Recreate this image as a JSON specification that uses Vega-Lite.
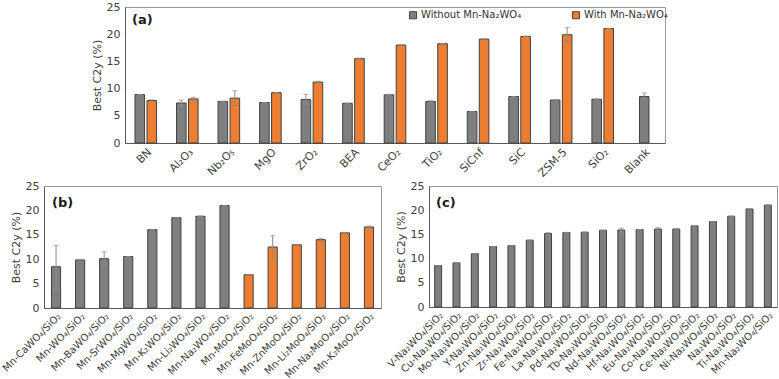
{
  "$schema": "https://vega.github.io/schema/vega-lite/v6.json",
  "padding": {"left": 0, "top": 0, "right": 0, "bottom": 0},
  "background": "white",
  "config": {
    "font": "DejaVu Sans",
    "view": {"stroke": "#9a9a9a", "strokeWidth": 1},
    "axis": {"labelFont": "DejaVu Sans", "titleFont": "DejaVu Sans", "labelColor": "#404040", "titleColor": "#404040", "domainColor": "#595959", "ticks": false, "grid": false, "labelFontSize": 11, "titleFontSize": 11, "titleFontWeight": "normal", "labelPadding": 5, "titlePadding": 4},
    "axisX": {"labelAngle": -45, "title": null, "labelFontSize": 10, "labelPadding": 3},
    "title": {"font": "DejaVu Sans", "fontSize": 13, "fontWeight": "bold", "color": "#1a1a1a", "anchor": "start", "frame": "group"}
  },
  "spacing": -1,
  "vconcat": [
    {
      "spacing": 0,
      "hconcat": [
        {
          "width": 46,
          "height": 136,
          "view": {"stroke": null},
          "data": {"values": []},
          "mark": "point"
        },
        {
          "width": 540,
          "height": 136,
          "title": {"text": "(a)", "offset": -26, "dx": 7},
          "data": {"values": [
            {"cat": "BN", "series": "Without Mn-Na₂WO₄", "value": 8.9, "err": 0},
            {"cat": "BN", "series": "With Mn-Na₂WO₄", "value": 7.8, "err": 0.15},
            {"cat": "Al₂O₃", "series": "Without Mn-Na₂WO₄", "value": 7.35, "err": 0.55},
            {"cat": "Al₂O₃", "series": "With Mn-Na₂WO₄", "value": 8.1, "err": 0.3},
            {"cat": "Nb₂O₅", "series": "Without Mn-Na₂WO₄", "value": 7.65, "err": 0},
            {"cat": "Nb₂O₅", "series": "With Mn-Na₂WO₄", "value": 8.25, "err": 1.35},
            {"cat": "MgO", "series": "Without Mn-Na₂WO₄", "value": 7.45, "err": 0},
            {"cat": "MgO", "series": "With Mn-Na₂WO₄", "value": 9.25, "err": 0},
            {"cat": "ZrO₂", "series": "Without Mn-Na₂WO₄", "value": 8.0, "err": 0.95},
            {"cat": "ZrO₂", "series": "With Mn-Na₂WO₄", "value": 11.2, "err": 0.15},
            {"cat": "BEA", "series": "Without Mn-Na₂WO₄", "value": 7.3, "err": 0},
            {"cat": "BEA", "series": "With Mn-Na₂WO₄", "value": 15.5, "err": 0.1},
            {"cat": "CeO₂", "series": "Without Mn-Na₂WO₄", "value": 8.85, "err": 0.1},
            {"cat": "CeO₂", "series": "With Mn-Na₂WO₄", "value": 18.0, "err": 0},
            {"cat": "TiO₂", "series": "Without Mn-Na₂WO₄", "value": 7.65, "err": 0.1},
            {"cat": "TiO₂", "series": "With Mn-Na₂WO₄", "value": 18.25, "err": 0},
            {"cat": "SiCnf", "series": "Without Mn-Na₂WO₄", "value": 5.8, "err": 0},
            {"cat": "SiCnf", "series": "With Mn-Na₂WO₄", "value": 19.1, "err": 0},
            {"cat": "SiC", "series": "Without Mn-Na₂WO₄", "value": 8.55, "err": 0},
            {"cat": "SiC", "series": "With Mn-Na₂WO₄", "value": 19.6, "err": 0},
            {"cat": "ZSM-5", "series": "Without Mn-Na₂WO₄", "value": 7.9, "err": 0},
            {"cat": "ZSM-5", "series": "With Mn-Na₂WO₄", "value": 19.9, "err": 1.3},
            {"cat": "SiO₂", "series": "Without Mn-Na₂WO₄", "value": 8.05, "err": 0},
            {"cat": "SiO₂", "series": "With Mn-Na₂WO₄", "value": 21.05, "err": 0},
            {"cat": "Blank", "series": "Without Mn-Na₂WO₄", "value": 8.55, "err": 0.65}
          ]},
          "encoding": {
            "x": {"field": "cat", "type": "nominal",
                  "scale": {"domain": ["BN", "Al₂O₃", "Nb₂O₅", "MgO", "ZrO₂", "BEA", "CeO₂", "TiO₂", "SiCnf", "SiC", "ZSM-5", "SiO₂", "Blank"], "paddingInner": 0.48, "paddingOuter": 0.24},
                  "axis": {"labelFontSize": 11, "maxExtent": 30}},
            "y": {"field": "value", "type": "quantitative",
                  "scale": {"domain": [0, 25], "nice": false},
                  "axis": {"title": "Best C2y (%)", "values": [0, 5, 10, 15, 20, 25]}}
          },
          "layer": [
            {
              "transform": [{"filter": "datum.cat !== 'Blank'"}],
              "layer": [
                {
                  "mark": {"type": "bar", "stroke": "#404040", "strokeWidth": 1},
                  "encoding": {
                    "xOffset": {"field": "series", "type": "nominal", "scale": {"domain": ["Without Mn-Na₂WO₄", "With Mn-Na₂WO₄"], "paddingInner": 0.2}},
                    "color": {"field": "series", "type": "nominal",
                              "scale": {"domain": ["Without Mn-Na₂WO₄", "With Mn-Na₂WO₄"], "range": ["#7f7f7f", "#ED7D31"]},
                              "legend": {"title": null, "orient": "none", "legendX": 364, "legendY": 3, "direction": "horizontal", "symbolType": "square", "symbolSize": 50, "symbolStrokeColor": "#404040", "symbolStrokeWidth": 1, "labelFontSize": 10, "labelColor": "#333333", "columnPadding": 48, "labelFont": "DejaVu Sans", "labelOffset": 3}}
                  }
                },
                {
                  "mark": {"type": "errorbar", "color": "#8c8c8c", "ticks": {"size": 5}},
                  "encoding": {
                    "xOffset": {"field": "series", "type": "nominal", "scale": {"domain": ["Without Mn-Na₂WO₄", "With Mn-Na₂WO₄"], "paddingInner": 0.2}},
                    "yError": {"field": "err"}
                  }
                }
              ]
            },
            {
              "transform": [{"filter": "datum.cat === 'Blank'"}],
              "layer": [
                {
                  "mark": {"type": "bar", "stroke": "#404040", "strokeWidth": 1, "width": {"band": 0.44}},
                  "encoding": {
                    "color": {"field": "series", "type": "nominal"}
                  }
                },
                {
                  "mark": {"type": "errorbar", "color": "#8c8c8c", "ticks": {"size": 5}},
                  "encoding": {"yError": {"field": "err"}}
                }
              ]
            }
          ]
        }
      ]
    },
    {
      "spacing": 3,
      "hconcat": [
        {
          "width": 337,
          "height": 122,
          "title": {"text": "(b)", "offset": -30, "dx": 8},
          "data": {"values": [
            {"cat": "Mn-CaWO₄/SiO₂", "grp": "W", "value": 8.45, "err": 4.4},
            {"cat": "Mn-WO₄/SiO₂", "grp": "W", "value": 9.85, "err": 0},
            {"cat": "Mn-BaWO₄/SiO₂", "grp": "W", "value": 10.1, "err": 1.4},
            {"cat": "Mn-SrWO₄/SiO₂", "grp": "W", "value": 10.55, "err": 0},
            {"cat": "Mn-MgWO₄/SiO₂", "grp": "W", "value": 16.05, "err": 0},
            {"cat": "Mn-K₂WO₄/SiO₂", "grp": "W", "value": 18.5, "err": 0},
            {"cat": "Mn-Li₂WO₄/SiO₂", "grp": "W", "value": 18.8, "err": 0},
            {"cat": "Mn-Na₂WO₄/SiO₂", "grp": "W", "value": 21.0, "err": 0},
            {"cat": "Mn-MoO₄/SiO₂", "grp": "Mo", "value": 6.8, "err": 0},
            {"cat": "Mn-FeMoO₄/SiO₂", "grp": "Mo", "value": 12.5, "err": 2.3},
            {"cat": "Mn-ZnMoO₄/SiO₂", "grp": "Mo", "value": 12.95, "err": 0},
            {"cat": "Mn-Li₂MoO₄/SiO₂", "grp": "Mo", "value": 14.0, "err": 0.3},
            {"cat": "Mn-Na₂MoO₄/SiO₂", "grp": "Mo", "value": 15.4, "err": 0.1},
            {"cat": "Mn-K₂MoO₄/SiO₂", "grp": "Mo", "value": 16.6, "err": 0.2}
          ]},
          "encoding": {
            "x": {"field": "cat", "type": "nominal", "sort": null, "scale": {"paddingInner": 0.62, "paddingOuter": 0.31}},
            "y": {"field": "value", "type": "quantitative", "scale": {"domain": [0, 25], "nice": false},
                  "axis": {"title": "Best C2y (%)", "values": [0, 5, 10, 15, 20, 25]}}
          },
          "layer": [
            {
              "mark": {"type": "bar", "stroke": "#404040", "strokeWidth": 1},
              "encoding": {"color": {"condition": {"test": "datum.grp === 'Mo'", "value": "#ED7D31"}, "value": "#7f7f7f"}}
            },
            {
              "mark": {"type": "errorbar", "color": "#8c8c8c", "ticks": {"size": 5}},
              "encoding": {"yError": {"field": "err"}}
            }
          ]
        },
        {
          "width": 348,
          "height": 121,
          "title": {"text": "(c)", "offset": -30, "dx": 7},
          "data": {"values": [
            {"cat": "V-Na₂WO₄/SiO₂", "value": 8.55, "err": 0},
            {"cat": "Cu-Na₂WO₄/SiO₂", "value": 9.1, "err": 0},
            {"cat": "Mo-Na₂WO₄/SiO₂", "value": 11.0, "err": 0},
            {"cat": "Y-Na₂WO₄/SiO₂", "value": 12.5, "err": 0},
            {"cat": "Zn-Na₂WO₄/SiO₂", "value": 12.65, "err": 0},
            {"cat": "Zr-Na₂WO₄/SiO₂", "value": 13.8, "err": 0},
            {"cat": "Fe-Na₂WO₄/SiO₂", "value": 15.2, "err": 0.15},
            {"cat": "La-Na₂WO₄/SiO₂", "value": 15.4, "err": 0},
            {"cat": "Pd-Na₂WO₄/SiO₂", "value": 15.45, "err": 0},
            {"cat": "Tb-Na₂WO₄/SiO₂", "value": 15.85, "err": 0},
            {"cat": "Nd-Na₂WO₄/SiO₂", "value": 15.9, "err": 0.4},
            {"cat": "Hf-Na₂WO₄/SiO₂", "value": 16.0, "err": 0},
            {"cat": "Eu-Na₂WO₄/SiO₂", "value": 16.1, "err": 0.3},
            {"cat": "Co-Na₂WO₄/SiO₂", "value": 16.1, "err": 0},
            {"cat": "Ce-Na₂WO₄/SiO₂", "value": 16.75, "err": 0},
            {"cat": "Ni-Na₂WO₄/SiO₂", "value": 17.65, "err": 0},
            {"cat": "Na₂WO₄/SiO₂", "value": 18.75, "err": 0},
            {"cat": "Ti-Na₂WO₄/SiO₂", "value": 20.25, "err": 0},
            {"cat": "Mn-Na₂WO₄/SiO₂", "value": 21.05, "err": 0}
          ]},
          "encoding": {
            "x": {"field": "cat", "type": "nominal", "sort": null, "scale": {"paddingInner": 0.62, "paddingOuter": 0.31}},
            "y": {"field": "value", "type": "quantitative", "scale": {"domain": [0, 25], "nice": false},
                  "axis": {"title": "Best C2y (%)", "values": [0, 5, 10, 15, 20, 25]}}
          },
          "layer": [
            {
              "mark": {"type": "bar", "stroke": "#404040", "strokeWidth": 1, "color": "#7f7f7f"},
              "encoding": {}
            },
            {
              "mark": {"type": "errorbar", "color": "#8c8c8c", "ticks": {"size": 5}},
              "encoding": {"yError": {"field": "err"}}
            }
          ]
        }
      ]
    }
  ]
}
